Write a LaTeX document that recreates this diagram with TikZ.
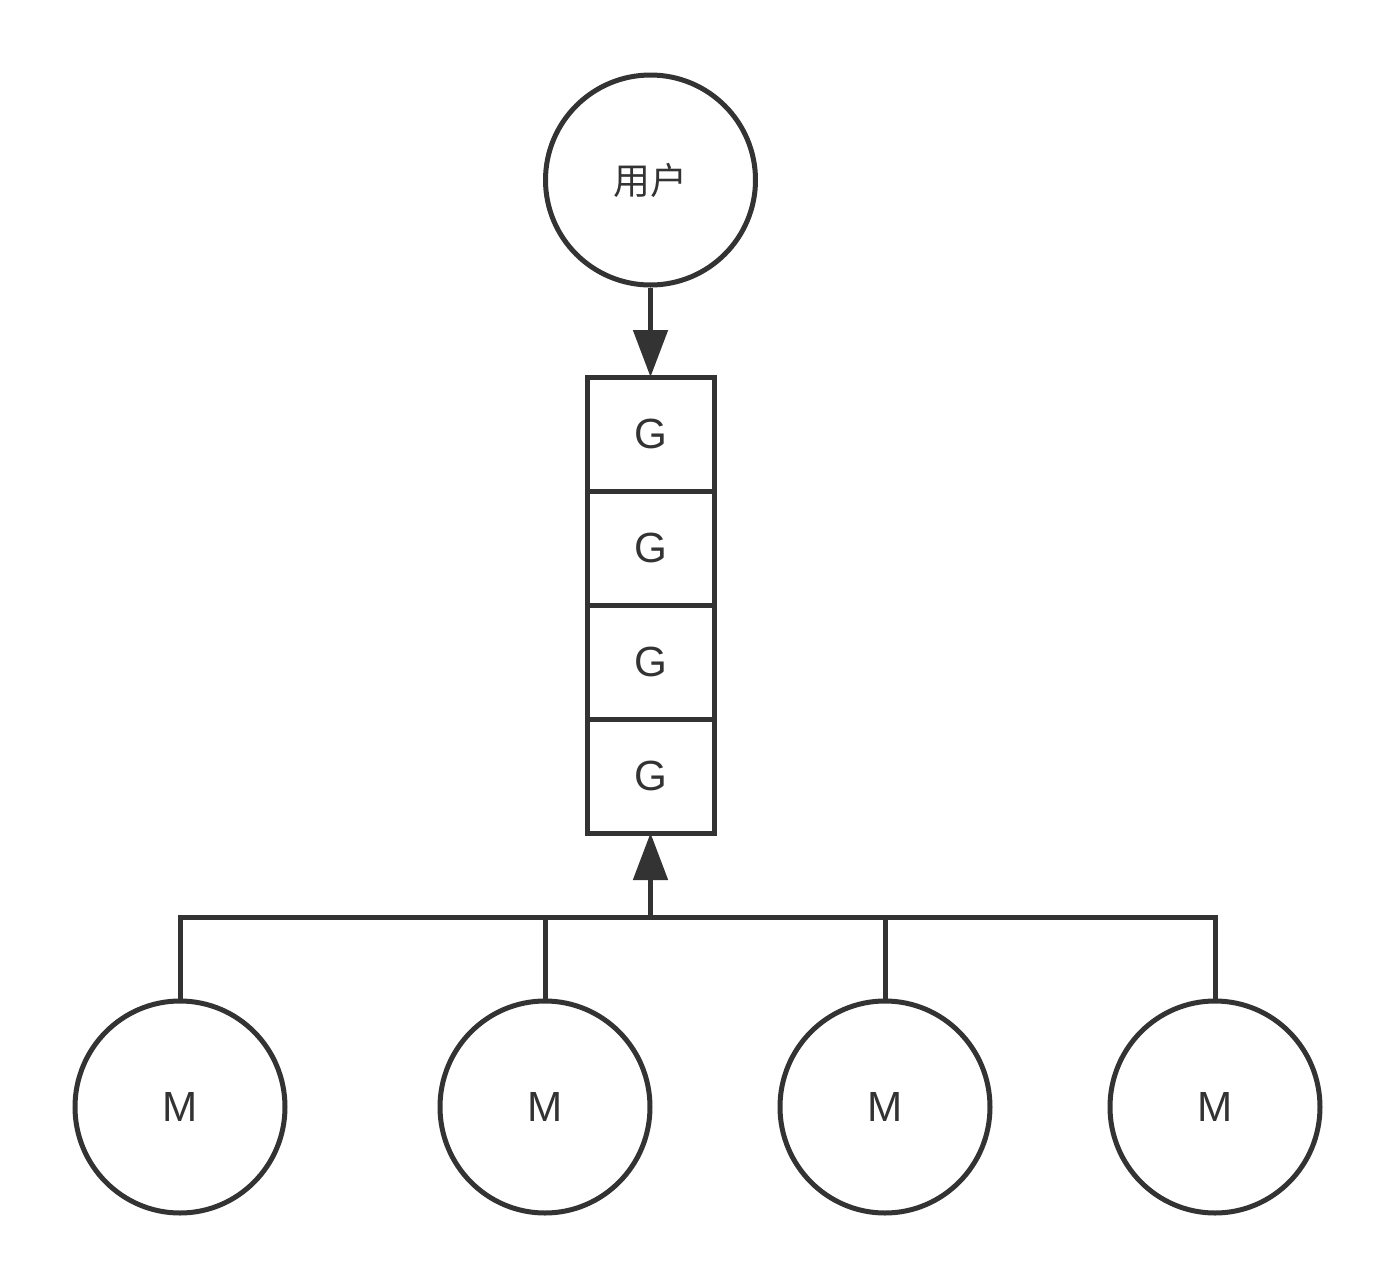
\documentclass[tikz,border=0pt]{standalone}
\usepackage{fontspec}
\setmainfont{Liberation Sans}
\newfontfamily\cjk{Noto Sans CJK SC}
\usepackage{xcolor}
\definecolor{ink}{HTML}{333333}
\usepackage{tikz}
\usetikzlibrary{calc,positioning,arrows.meta,shapes}
\tikzset{
    user/.style={
    circle,draw=ink,line width=0.1cm,minimum size=4.2cm,inner sep=0pt,text=ink,font=\cjk\fontsize{21}{24}\selectfont
    },
    gcell/.style={
    rectangle,draw=ink,line width=0.1cm,minimum width=2.54cm,minimum height=2.28cm,outer sep=0pt,text=ink,font=\fontsize{24}{28}\selectfont
    },
    mnode/.style={
    ellipse,draw=ink,line width=0.1cm,minimum width=4.2cm,minimum height=4.24cm,inner sep=0pt,text=ink,font=\fontsize{24}{28}\selectfont
    },
  line/.style={draw=ink, line width=0.1cm},
  arr/.style={-{Triangle[length=0.94cm,width=0.68cm]}},
}
\begin{document}
\begin{tikzpicture}
    \useasboundingbox (0,0) rectangle (27.9,-25.74);

    \node[user] (usr) at (13.01,-3.6) {用户};

    \node[gcell] (g1) at (13.01,-8.68) {G};
    \node[gcell,below=0pt of g1] (g2) {G};
    \node[gcell,below=0pt of g2] (g3) {G};
    \node[gcell,below=0pt of g3] (g4) {G};

    \node[mnode] (m1) at (3.6,-22.14) {M};
    \node[mnode] (m2) at (10.9,-22.14) {M};
    \node[mnode] (m3) at (17.7,-22.14) {M};
    \node[mnode] (m4) at (24.3,-22.14) {M};

    \coordinate (bus) at ($(g4.south)+(0,-1.68)$);

    \begin{scope} [every path/.style=line]
      \path[arr] (usr) -- (g1);
      \path[arr] (bus) -- (g4);

      \path (m1.north) |- (bus -| m4.north) -- (m4.north);
      \path (m2.north) -- (m2.north |- bus);
      \path (m3.north) -- (m3.north |- bus);
    \end{scope}

  \end{tikzpicture}
\end{document}
